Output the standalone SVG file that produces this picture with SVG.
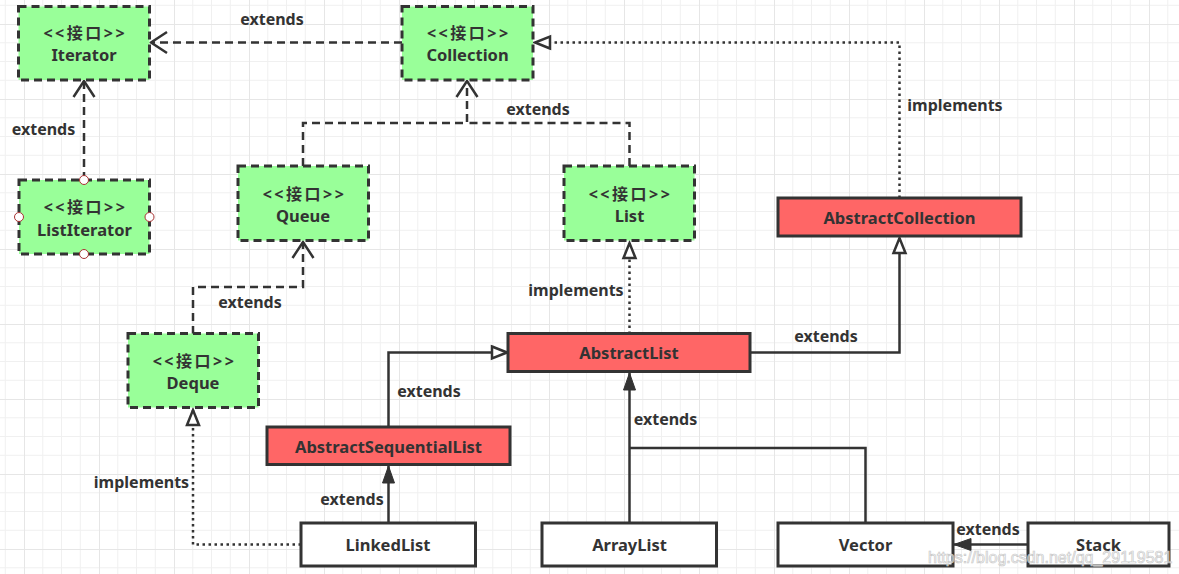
<svg xmlns="http://www.w3.org/2000/svg" width="1179" height="574" viewBox="0 0 1179 574">
<style>
.t{font-family:"Noto Sans","Noto Sans CJK SC",sans-serif;font-weight:bold;fill:#333333;text-anchor:middle;dominant-baseline:central}
.s{font-size:16px;letter-spacing:2.5px}
.n{font-size:16.5px}
.l{font-size:16px}
.gi{fill:#99ff99;stroke:#333333;stroke-width:3;stroke-dasharray:8 5}
.red{fill:#ff6666;stroke:#333333;stroke-width:3}
.wh{fill:#ffffff;stroke:#333333;stroke-width:3}
.c{fill:none;stroke:#333333;stroke-width:2.5}
.da{stroke-dasharray:8 5}
.do{stroke-dasharray:2.5 3.5}
.pt{fill:#ffffff;stroke:#a83232;stroke-width:1}
.wm{font-family:"Liberation Sans",Arial,sans-serif;font-size:16px;fill:#ffffff;fill-opacity:0.6;stroke:#c8c8c8;stroke-width:0.7}
</style>
<defs>
<pattern id="grid" patternUnits="userSpaceOnUse" x="24" y="24" width="75" height="75">
<path d="M18.75,0V75M37.5,0V75M56.25,0V75M0,18.75H75M0,37.5H75M0,56.25H75" fill="none" stroke="#f0f0f0" stroke-width="1"/>
<path d="M0.5,0V75M0,0.5H75" fill="none" stroke="#e6e6e6" stroke-width="1"/>
</pattern>
<marker id="open" markerUnits="userSpaceOnUse" markerWidth="40" markerHeight="40" viewBox="-20 -20 40 40" refX="0" refY="0" orient="auto" overflow="visible">
<path d="M-16,-10.5L0,0L-16,10.5" fill="none" stroke="#333333" stroke-width="2.5"/>
</marker>
<marker id="hollow" markerUnits="userSpaceOnUse" markerWidth="40" markerHeight="40" viewBox="-20 -20 40 40" refX="0" refY="0" orient="auto" overflow="visible">
<path d="M-15,-6L0,0L-15,6Z" fill="#ffffff" stroke="#333333" stroke-width="2.5"/>
</marker>
<marker id="filled" markerUnits="userSpaceOnUse" markerWidth="40" markerHeight="40" viewBox="-20 -20 40 40" refX="0" refY="0" orient="auto" overflow="visible">
<path d="M-17,-6L0,0L-17,6Z" fill="#333333" stroke="#333333" stroke-width="1"/>
</marker>
</defs>
<rect width="1179" height="574" fill="#ffffff"/>
<rect width="1179" height="574" fill="url(#grid)"/>

<g id="connectors">
<path class="c da" d="M402,42.5H151" marker-end="url(#open)"/>
<path class="c da" d="M84,180V81" marker-end="url(#open)"/>
<path class="c da" d="M303,166V123H467V81" marker-end="url(#open)"/>
<path class="c da" d="M629.5,166V123H467"/>
<path class="c da" d="M193,334V287H303V242" marker-end="url(#open)"/>
<path class="c do" d="M899.5,198V42.5H535" marker-end="url(#hollow)"/>
<path class="c do" d="M629.5,334V243" marker-end="url(#hollow)"/>
<path class="c" d="M750,352.5H899.5V238" marker-end="url(#hollow)"/>
<path class="c" d="M388.5,427V352.5H507" marker-end="url(#hollow)"/>
<path class="c" d="M388.5,523V466" marker-end="url(#filled)"/>
<path class="c" d="M629.5,523V373" marker-end="url(#filled)"/>
<path class="c" d="M865.5,523V448H629.5"/>
<path class="c" d="M1028,544.5H954" marker-end="url(#filled)"/>
<path class="c do" d="M301,544.5H193V410" marker-end="url(#hollow)"/>
<text class="t l" x="272" y="19">extends</text>
<text class="t l" x="43.5" y="129">extends</text>
<text class="t l" x="538" y="109">extends</text>
<text class="t l" x="250" y="302">extends</text>
<text class="t l" x="955" y="105">implements</text>
<text class="t l" x="576" y="290">implements</text>
<text class="t l" x="826" y="336">extends</text>
<text class="t l" x="429" y="391">extends</text>
<text class="t l" x="352" y="499">extends</text>
<text class="t l" x="665.5" y="419">extends</text>
<text class="t l" x="988" y="529">extends</text>
<text class="t l" x="141.5" y="482">implements</text>
</g>

<g id="Iterator">
<rect class="gi" x="18.5" y="6.5" width="131" height="73.5"/>
<text class="t s" x="85.25" y="32.5">&lt;&lt;接口&gt;&gt;</text>
<text class="t n" x="84" y="54.5">Iterator</text>
</g>
<g id="Collection">
<rect class="gi" x="402" y="6.5" width="131" height="73.5"/>
<text class="t s" x="468.75" y="32.5">&lt;&lt;接口&gt;&gt;</text>
<text class="t n" x="467.5" y="54.5">Collection</text>
</g>
<g id="ListIterator">
<rect class="gi" x="19" y="180" width="130.5" height="74"/>
<text class="t s" x="85.5" y="206.5">&lt;&lt;接口&gt;&gt;</text>
<text class="t n" x="84.5" y="229">ListIterator</text>
<circle class="pt" cx="84" cy="180" r="4.5"/>
<circle class="pt" cx="19" cy="217" r="4.5"/>
<circle class="pt" cx="149.5" cy="217" r="4.5"/>
<circle class="pt" cx="84" cy="254" r="4.5"/>
</g>
<g id="Queue">
<rect class="gi" x="238" y="166" width="130.5" height="74.5"/>
<text class="t s" x="304.5" y="193.5">&lt;&lt;接口&gt;&gt;</text>
<text class="t n" x="303" y="215.5">Queue</text>
</g>
<g id="List">
<rect class="gi" x="564" y="166" width="130.5" height="74.5"/>
<text class="t s" x="630.5" y="193.5">&lt;&lt;接口&gt;&gt;</text>
<text class="t n" x="629.5" y="215.5">List</text>
</g>
<g id="Deque">
<rect class="gi" x="128" y="333.5" width="130.5" height="74"/>
<text class="t s" x="194.5" y="360.5">&lt;&lt;接口&gt;&gt;</text>
<text class="t n" x="193" y="382.5">Deque</text>
</g>
<g id="AbstractCollection">
<rect class="red" x="778" y="198" width="243" height="38"/>
<text class="t n" x="899.5" y="217">AbstractCollection</text>
</g>
<g id="AbstractList">
<rect class="red" x="508" y="333.5" width="242" height="38"/>
<text class="t n" x="629" y="352.5">AbstractList</text>
</g>
<g id="AbstractSequentialList">
<rect class="red" x="267" y="427" width="243" height="37.5"/>
<text class="t n" x="388.5" y="446">AbstractSequentialList</text>
</g>
<g id="LinkedList">
<rect class="wh" x="301" y="523" width="174.5" height="43"/>
<text class="t n" x="388" y="544.5">LinkedList</text>
</g>
<g id="ArrayList">
<rect class="wh" x="542" y="523" width="174.5" height="43"/>
<text class="t n" x="629.5" y="544.5">ArrayList</text>
</g>
<g id="Vector">
<rect class="wh" x="778" y="523" width="175" height="43"/>
<text class="t n" x="865.5" y="544.5">Vector</text>
</g>
<g id="Stack">
<rect class="wh" x="1028" y="523" width="141" height="43"/>
<text class="t n" x="1098.5" y="544.5">Stack</text>
</g>
<text class="wm" x="928" y="563">https://blog.csdn.net/qq_29119581</text>
</svg>
